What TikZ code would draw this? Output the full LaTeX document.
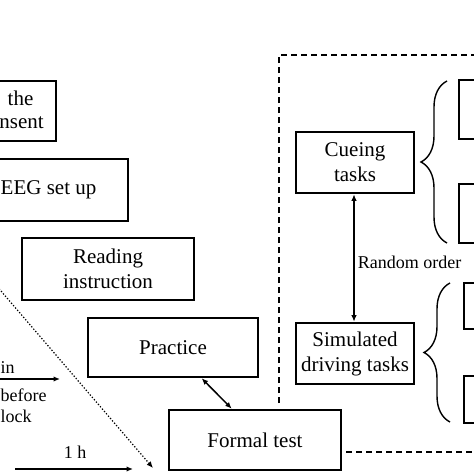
\documentclass[tikz,border=0pt]{standalone}
\usepackage{fontspec}
\setmainfont{Liberation Serif}
\usetikzlibrary{arrows.meta,decorations.pathreplacing}
\begin{document}
\begin{tikzpicture}[x=1pt,y=-1pt,
  box/.style={draw, line width=2.6pt, inner sep=0pt, align=center,
    font=\fontsize{21}{25}\selectfont},
  txt/.style={inner sep=0pt, font=\fontsize{21}{25}\selectfont},
  smalltxt/.style={inner sep=0pt, font=\fontsize{18}{21}\selectfont},
  conn/.style={line width=1.5pt, -{Latex[length=6.5pt,width=5.5pt]}},
  dconn/.style={line width=1.5pt, {Latex[length=6.5pt,width=5.5pt]}-{Latex[length=6.5pt,width=5.5pt]}},
  dashbox/.style={line width=2pt, dash pattern=on 6pt off 4pt},
  bracestyle/.style={line width=1.4pt, decorate, decoration={brace, amplitude=26pt}}
]
\useasboundingbox (0,0) rectangle (474,474);
\clip (0,0) rectangle (474,474);

% left column boxes
\node[box, minimum width=96pt, minimum height=60pt] (consent) at (8,111) {};
\node[txt] (the) at (20.5,98) {the};
\node[txt, anchor=east] (nsent) at (44,123) {nsent};

\node[box, minimum width=168pt, minimum height=62pt] (eeg) at (44,190) {};
\node[txt, anchor=west] (eegtxt) at (0.5,190) {EEG set up};

\node[box, minimum width=172pt, minimum height=62pt] (reading) at (108,269) {Reading\\instruction};
\node[box, minimum width=170pt, minimum height=59pt] (practice) at (173,347.5) {Practice};
\node[box, minimum width=172pt, minimum height=60pt] (formal) at (255,440) {Formal test};

\draw[dconn] ([xshift=115pt]practice.south west) -- ([xshift=64pt]formal.north west);

% left labels and arrows
\node[smalltxt, anchor=west] (in) at (0.5,368) {in};
\node[smalltxt, anchor=west] (before) at (0.5,395) {before};
\node[smalltxt, anchor=west] (lock) at (0.5,416) {lock};
\node[smalltxt] (oneh) at (75,452) {1 h};
\coordinate (a1s) at (-5,379);
\coordinate (a1e) at (60,379);
\draw[conn] (a1s) -- (a1e);
\coordinate (a2s) at (15,469);
\coordinate (a2e) at (133,469);
\draw[conn] (a2s) -- (a2e);
\coordinate (d1s) at (-5,284);
\coordinate (d1e) at (153,468);
\draw[line width=1.2pt, dash pattern=on 1.3pt off 1.8pt, -{Latex[length=6.5pt,width=5.5pt]}] (d1s) -- (d1e);

% dashed frame
\draw[dashbox] (279,403) -- (279,55) -- (480,55);
\draw[dashbox] (346,452) -- (480,452);

% right part
\node[box, minimum width=118pt, minimum height=61pt] (cue) at (355,162.5) {Cueing\\tasks};
\node[box, minimum width=118pt, minimum height=61pt] (sim) at (355,353.5) {Simulated\\driving tasks};
\draw[dconn] ([xshift=-1pt]cue.south) -- ([xshift=-1pt]sim.north);
\node[smalltxt] (rand) at (409.5,262) {Random order};

\coordinate (b1a) at (447,243);
\coordinate (b1b) at (447,81);
\draw[bracestyle] (b1a) -- (b1b);
\coordinate (b2a) at (450,422);
\coordinate (b2b) at (450,283);
\draw[bracestyle] (b2a) -- (b2b);

\node[box, minimum width=41pt, minimum height=59pt] (r1) at (479.5,109.5) {};
\node[box, minimum width=41pt, minimum height=59pt] (r2) at (479.5,213.5) {};
\node[box, minimum width=36pt, minimum height=46pt] (r3) at (482,306) {};
\node[box, minimum width=36pt, minimum height=47pt] (r4) at (482,399.5) {};
\end{tikzpicture}
\end{document}
